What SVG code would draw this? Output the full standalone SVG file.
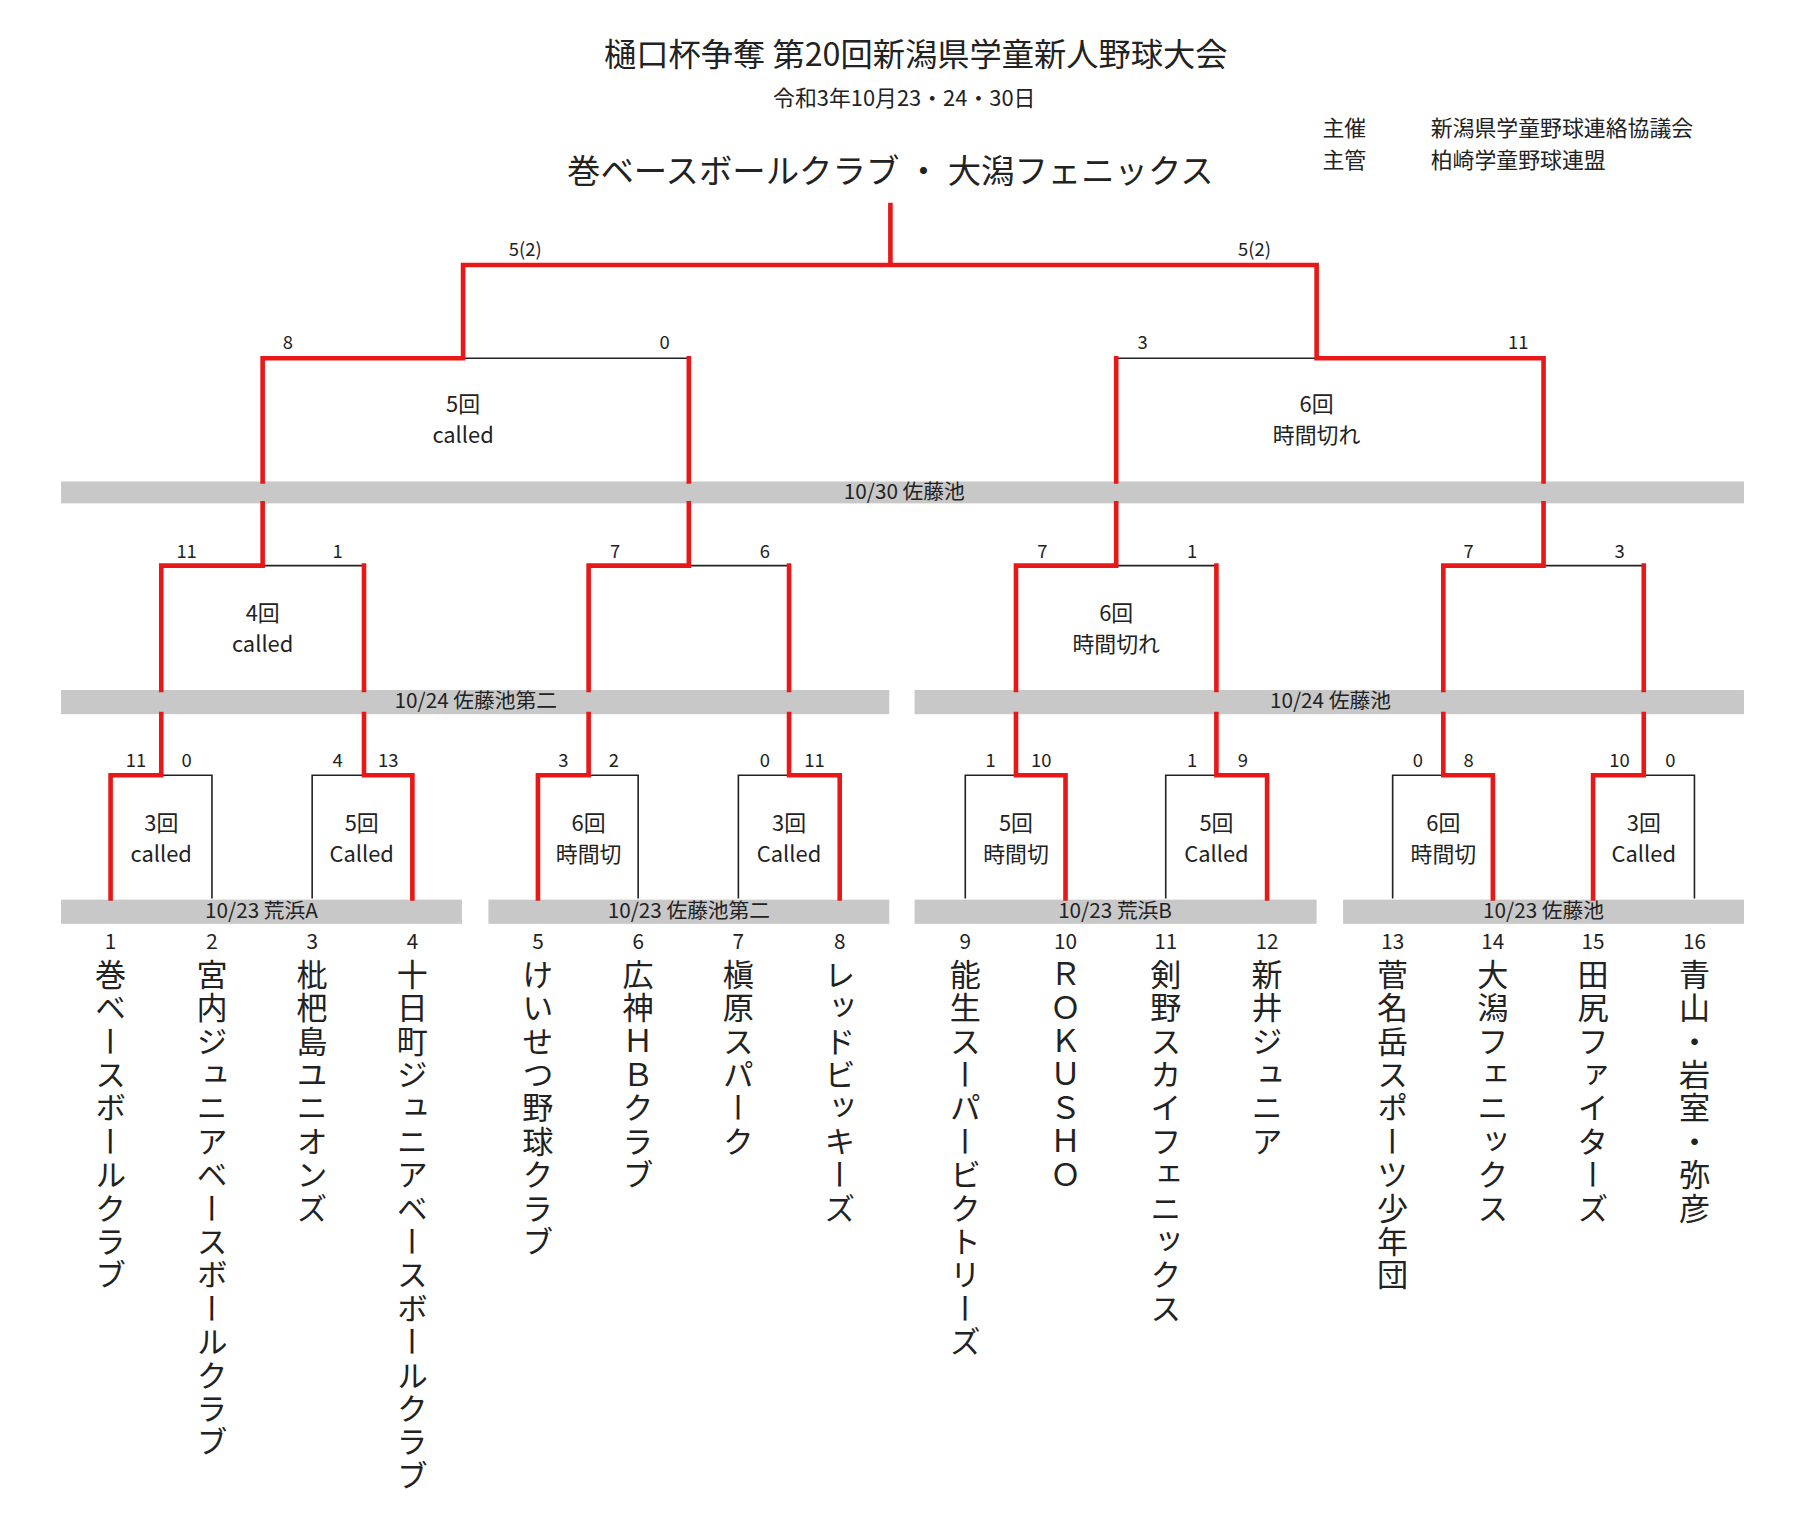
<svg xmlns="http://www.w3.org/2000/svg" width="1797" height="1521" viewBox="0 0 1797 1521">
<style>
text{font-family:"Noto Sans CJK JP","Noto Sans",sans-serif;fill:#222}
.r{stroke:#e81818;stroke-width:4;fill:none;stroke-linecap:square}
.b{stroke:#222;stroke-width:1.4;fill:none}
.band{fill:#c8c8c8}
.s{font-size:16px;text-anchor:middle}
.n{font-size:19px;text-anchor:middle}
.bt{font-size:18px;text-anchor:middle}
.t{font-size:27px;writing-mode:vertical-rl;letter-spacing:2px}
.num{font-size:18px;text-anchor:middle}
</style>
<rect width="1797" height="1521" fill="#fff"/>
<g transform="scale(1.1519)">
<g id="header">
<text x="795" y="57" font-size="28" text-anchor="middle">樋口杯争奪 第20回新潟県学童新人野球大会</text>
<text x="785" y="92" font-size="19" text-anchor="middle">令和3年10月23・24・30日</text>
<text x="1148" y="118" font-size="19">主催</text>
<text x="1242" y="118" font-size="19">新潟県学童野球連絡協議会</text>
<text x="1148" y="146" font-size="19">主管</text>
<text x="1242" y="146" font-size="19">柏崎学童野球連盟</text>
<text x="773" y="159" font-size="29" text-anchor="middle">巻ベースボールクラブ ・ 大潟フェニックス</text>
</g>
<g id="bands">
<rect class="band" x="53" y="418" width="1461" height="19"/>
<text class="bt" x="785" y="433">10/30 佐藤池</text>
<rect class="band" x="53" y="599" width="719" height="21"/>
<text class="bt" x="413" y="615">10/24 佐藤池第二</text>
<rect class="band" x="794" y="599" width="720" height="21"/>
<text class="bt" x="1155" y="615">10/24 佐藤池</text>
<rect class="band" x="53" y="781" width="348" height="21"/>
<text class="bt" x="227" y="797">10/23 荒浜A</text>
<rect class="band" x="424" y="781" width="348" height="21"/>
<text class="bt" x="598" y="797">10/23 佐藤池第二</text>
<rect class="band" x="794" y="781" width="349" height="21"/>
<text class="bt" x="968" y="797">10/23 荒浜B</text>
<rect class="band" x="1166" y="781" width="348" height="21"/>
<text class="bt" x="1340" y="797">10/23 佐藤池</text>
</g>
<g id="connectors">
<path class="b" d="M402 311H598M969 311H1143M228 491H316M598 491H685M969 491H1056M1340 491H1427M140 673H184V780M271 780V673H316M511 673H554V780M641 780V673H685M838 780V673H882M1012 780V673H1056M1209 780V673H1253M1427 673H1471V780"/>
<path class="r" d="M773 178V230M402 311V230H1143V311M228 418V311H402M1143 311H1340V418M598 311V418M969 311V418"/>
<path class="r" d="M228 437V491H140V599M316 491V599M598 437V491H511V599M685 491V599M969 437V491H882V599M1056 491V599M1340 437V491H1253V599M1427 491V599"/>
<path class="r" d="M140 620V673H96V780M316 620V673H358V780M511 620V673H467V780M685 620V673H729V780M882 620V673H925V780M1056 620V673H1100V780M1253 620V673H1296V780M1427 620V673H1383V780"/>
</g>
<g id="scores">
<text class="s" x="456" y="222">5(2)</text><text class="s" x="1089" y="222">5(2)</text>
<text class="s" x="250" y="303">8</text><text class="s" x="577" y="303">0</text><text class="s" x="992" y="303">3</text><text class="s" x="1318" y="303">11</text>
<text class="s" x="162" y="484">11</text><text class="s" x="293" y="484">1</text><text class="s" x="534" y="484">7</text><text class="s" x="664" y="484">6</text>
<text class="s" x="905" y="484">7</text><text class="s" x="1035" y="484">1</text><text class="s" x="1275" y="484">7</text><text class="s" x="1406" y="484">3</text>
<text class="s" x="118" y="666">11</text><text class="s" x="162" y="666">0</text><text class="s" x="293" y="666">4</text><text class="s" x="337" y="666">13</text>
<text class="s" x="489" y="666">3</text><text class="s" x="533" y="666">2</text><text class="s" x="664" y="666">0</text><text class="s" x="707" y="666">11</text>
<text class="s" x="860" y="666">1</text><text class="s" x="904" y="666">10</text><text class="s" x="1035" y="666">1</text><text class="s" x="1079" y="666">9</text>
<text class="s" x="1231" y="666">0</text><text class="s" x="1275" y="666">8</text><text class="s" x="1406" y="666">10</text><text class="s" x="1450" y="666">0</text>
</g>
<g id="notes">
<text class="n" x="402" y="358">5回</text><text class="n" x="402" y="385">called</text>
<text class="n" x="1143" y="358">6回</text><text class="n" x="1143" y="385">時間切れ</text>
<text class="n" x="228" y="539">4回</text><text class="n" x="228" y="566">called</text>
<text class="n" x="969" y="539">6回</text><text class="n" x="969" y="566">時間切れ</text>
<text class="n" x="140" y="721">3回</text><text class="n" x="140" y="748">called</text>
<text class="n" x="314" y="721">5回</text><text class="n" x="314" y="748">Called</text>
<text class="n" x="511" y="721">6回</text><text class="n" x="511" y="748">時間切</text>
<text class="n" x="685" y="721">3回</text><text class="n" x="685" y="748">Called</text>
<text class="n" x="882" y="721">5回</text><text class="n" x="882" y="748">時間切</text>
<text class="n" x="1056" y="721">5回</text><text class="n" x="1056" y="748">Called</text>
<text class="n" x="1253" y="721">6回</text><text class="n" x="1253" y="748">時間切</text>
<text class="n" x="1427" y="721">3回</text><text class="n" x="1427" y="748">Called</text>
</g>
<g id="teams">
<text class="num" x="96" y="824">1</text><text class="t" x="96" y="832">巻ベースボールクラブ</text>
<text class="num" x="184" y="824">2</text><text class="t" x="184" y="832">宮内ジュニアベースボールクラブ</text>
<text class="num" x="271" y="824">3</text><text class="t" x="271" y="832">枇杷島ユニオンズ</text>
<text class="num" x="358" y="824">4</text><text class="t" x="358" y="832">十日町ジュニアベースボールクラブ</text>
<text class="num" x="467" y="824">5</text><text class="t" x="467" y="832">けいせつ野球クラブ</text>
<text class="num" x="554" y="824">6</text><text class="t" x="554" y="832">広神ＨＢクラブ</text>
<text class="num" x="641" y="824">7</text><text class="t" x="641" y="832">槇原スパーク</text>
<text class="num" x="729" y="824">8</text><text class="t" x="729" y="832">レッドビッキーズ</text>
<text class="num" x="838" y="824">9</text><text class="t" x="838" y="832">能生スーパービクトリーズ</text>
<text class="num" x="925" y="824">10</text><text class="t" x="925" y="832">ＲＯＫＵＳＨＯ</text>
<text class="num" x="1012" y="824">11</text><text class="t" x="1012" y="832">剣野スカイフェニックス</text>
<text class="num" x="1100" y="824">12</text><text class="t" x="1100" y="832">新井ジュニア</text>
<text class="num" x="1209" y="824">13</text><text class="t" x="1209" y="832">菅名岳スポーツ少年団</text>
<text class="num" x="1296" y="824">14</text><text class="t" x="1296" y="832">大潟フェニックス</text>
<text class="num" x="1383" y="824">15</text><text class="t" x="1383" y="832">田尻ファイターズ</text>
<text class="num" x="1471" y="824">16</text><text class="t" x="1471" y="832">青山・岩室・弥彦</text>
</g>
</g>
</svg>
